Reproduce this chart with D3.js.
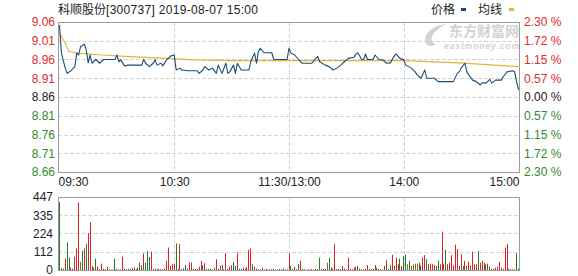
<!DOCTYPE html>
<html>
<head>
<meta charset="utf-8">
<script src="https://cdn.jsdelivr.net/npm/d3@7/dist/d3.min.js"></script>
<style>
	body { margin: 0; background: #fff; }
	svg { display: block; font-family: 'Liberation Sans', Arial, sans-serif; }
	.cjk { font-family: 'Noto Sans CJK SC', sans-serif; }
	.axis text { font-size: 12px; }
	.axis .domain, .axis line { display: none; }
	.grid line { stroke: #d4d4d4; stroke-dasharray: 4,2; }
	.frame { fill: none; stroke: #9a9a9a; }
</style>
</head>
<body>
<svg width="578" height="276"></svg>
<script>
// stock + chart meta
const title = '科顺股份'
const titleCode = '[300737] 2019-08-07 15:00'
const preClose = 8.86

// price axis ticks (left) and change ticks (right)
const priceTicks = [9.06, 9.01, 8.96, 8.91, 8.86, 8.81, 8.76, 8.71, 8.66]
const pctLabels = ['2.30 %', '1.72 %', '1.15 %', '0.57 %', '0.00 %', '0.57 %', '1.15 %', '1.72 %', '2.30 %']
const volTicks = [0, 112, 224, 335, 447]
const timeTicks = [0, 60, 120, 180, 240]
const timeLabels = ['09:30', '10:30', '11:30/13:00', '14:00', '15:00']

// price line vertices [minute, price]
const priceTrace = [
	[0, 9.052], [1, 8.977], [3, 8.937], [4, 8.923], [6, 8.930], [8, 8.941], [9, 8.977], [10, 8.972],
	[11, 8.994], [13, 9.001], [14, 8.985], [15, 8.951], [16, 8.972], [17, 8.950], [19, 8.960], [21, 8.950],
	[23, 8.960], [29, 8.960], [30, 8.972], [31, 8.954], [32, 8.959], [34, 8.943], [36, 8.945], [43, 8.945],
	[44, 8.960], [45, 8.950], [47, 8.941], [49, 8.950], [50, 8.959], [51, 8.945], [53, 8.950], [54, 8.943],
	[56, 8.959], [58, 8.969], [60, 8.972], [61, 8.932], [63, 8.937], [64, 8.932], [67, 8.930], [72, 8.930],
	[73, 8.923], [75, 8.932], [76, 8.941], [78, 8.932], [80, 8.937], [82, 8.923], [83, 8.945], [85, 8.923],
	[87, 8.950], [88, 8.923], [89, 8.927], [91, 8.945], [92, 8.923], [93, 8.950], [95, 8.932], [99, 8.932],
	[100, 8.954], [102, 8.977], [103, 8.950], [104, 8.981], [105, 8.990], [107, 8.978], [111, 8.978],
	[112, 8.960], [119, 8.960], [120, 8.990], [121, 8.977], [123, 8.972], [126, 8.954], [127, 8.950],
	[132, 8.950], [134, 8.963], [135, 8.968], [136, 8.954], [139, 8.945], [141, 8.941], [143, 8.932],
	[145, 8.937], [147, 8.945], [149, 8.954], [151, 8.963], [154, 8.966], [155, 8.975], [156, 8.978],
	[158, 8.960], [159, 8.960], [160, 8.975], [161, 8.960], [164, 8.960], [165, 8.972], [167, 8.960],
	[169, 8.959], [171, 8.950], [173, 8.951], [175, 8.969], [176, 8.975], [178, 8.963], [180, 8.959],
	[181, 8.945], [184, 8.937], [186, 8.927], [187, 8.919], [189, 8.910], [191, 8.932], [192, 8.910],
	[196, 8.910], [198, 8.901], [206, 8.901], [208, 8.923], [209, 8.927], [210, 8.937], [212, 8.950],
	[213, 8.927], [214, 8.919], [216, 8.905], [218, 8.901], [220, 8.892], [221, 8.898], [223, 8.897],
	[225, 8.907], [226, 8.897], [228, 8.905], [231, 8.905], [232, 8.914], [234, 8.927], [237, 8.930],
	[238, 8.927], [239, 8.901], [240, 8.879],
]

// average price line vertices [minute, price]
const avgTrace = [
	[0, 9.031], [3, 9.003], [5, 8.981], [10, 8.977], [22, 8.972], [39, 8.967], [57, 8.963], [70, 8.959],
	[91, 8.957], [120, 8.957], [150, 8.957], [180, 8.957], [209, 8.951], [240, 8.941],
]

// per-minute volume (lots) and side: r = up, g = down, n = flat
const volumes = [
	416, 10, 8, 70, 169, 76, 15, 8, 82, 132, 412, 50, 117, 132, 159, 225, 292, 25, 14, 70,
	20, 5, 39, 8, 5, 19, 4, 3, 3, 70, 8, 3, 4, 82, 8, 5, 8, 6, 10, 14,
	6, 14, 45, 29, 101, 45, 117, 80, 113, 5, 8, 5, 8, 6, 4, 10, 56, 138, 25, 35,
	39, 163, 8, 159, 5, 10, 31, 8, 45, 45, 8, 6, 8, 20, 56, 29, 41, 5, 6, 8,
	4, 14, 66, 8, 25, 31, 5, 103, 8, 20, 29, 49, 25, 107, 8, 6, 14, 8, 18, 124,
	132, 35, 20, 8, 5, 5, 14, 4, 5, 3, 4, 5, 8, 3, 4, 6, 3, 10, 3, 4,
	103, 25, 8, 20, 5, 35, 56, 8, 4, 3, 4, 3, 5, 3, 8, 6, 76, 8, 6, 8,
	45, 76, 15, 8, 159, 6, 8, 5, 25, 8, 4, 76, 8, 4, 15, 20, 25, 8, 5, 3,
	8, 31, 8, 5, 8, 31, 14, 8, 4, 3, 25, 60, 8, 29, 93, 25, 76, 35, 70, 25,
	87, 93, 35, 56, 25, 35, 39, 39, 45, 29, 76, 91, 66, 35, 39, 35, 29, 25, 56, 35,
	235, 39, 124, 35, 45, 91, 29, 155, 128, 25, 97, 25, 56, 25, 51, 29, 111, 35, 35, 117,
	45, 56, 45, 35, 39, 20, 8, 8, 14, 20, 49, 14, 8, 138, 159, 8, 5, 4, 3, 103, 8,
]
const volumeSides = [
	'ggrrggrrrrrngrgrrrrg', 'rrrrgrrgrgrrgrrrgrrr', 'grggrgggrrrgrrgrrrrr', 'rgrrgrgrrrrgrrrgrrrg',
	'rgrrgrrrrrrggrrgrrrr', 'rgrrgrgrrgrrgrgrrgrr', 'rgrrrgrrgrrrgrrrgrrg', 'ngrrrrgrrrrrrrrrgrrg',
	'rrrgrrgrrggrrgrrrrgr', 'ggngnnnngrrrgrrrrggr', 'rrgrrrrrrrrgrgrrrrrg', 'rrgrgrrgrrrrrrrrgrrgg',
].join('').split('')

const colors = { up: '#de2a2f', down: '#2f8a2f', flat: '#222', price: '#1a4c78', avg: '#e3b23c' }
const sideColor = { r: '#d8232a', g: '#1f7f24', n: '#8c6a1c' }

// layout
const plot = { left: 58, right: 519, top: 22, bottom: 172 }
const vol = { top: 197, bottom: 270 }

const svg = d3.select('svg')

const x = d3.scaleLinear().domain([0, 240]).range([plot.left + 1.5, plot.right - 0.5])
const y = d3.scaleLinear().domain([8.66, 9.06]).range([plot.bottom, plot.top])
const yv = d3.scaleLinear().domain([0, 447]).range([vol.bottom, vol.top])

const tickColor = v => v > preClose + 1e-6 ? colors.up : v < preClose - 1e-6 ? colors.down : colors.flat

// grids
const priceGrid = svg.append('g').attr('class', 'grid')
priceGrid.selectAll('.h').data(priceTicks.slice(1, -1)).join('line')
	.attr('x1', plot.left).attr('x2', plot.right)
	.attr('y1', d => Math.round(y(d)) + 0.5).attr('y2', d => Math.round(y(d)) + 0.5)
priceGrid.selectAll('.v').data(timeTicks.slice(1, -1)).join('line')
	.attr('class', 'v')
	.attr('x1', d => Math.round(x(d)) + 0.5).attr('x2', d => Math.round(x(d)) + 0.5)
	.attr('y1', plot.top).attr('y2', plot.bottom)

const volGrid = svg.append('g').attr('class', 'grid')
volGrid.selectAll('.h').data(volTicks.slice(1, -1)).join('line')
	.attr('x1', plot.left).attr('x2', plot.right)
	.attr('y1', d => Math.round(yv(d)) + 0.5).attr('y2', d => Math.round(yv(d)) + 0.5)
volGrid.selectAll('.v').data(timeTicks.slice(1, -1)).join('line')
	.attr('class', 'v')
	.attr('x1', d => Math.round(x(d)) + 0.5).attr('x2', d => Math.round(x(d)) + 0.5)
	.attr('y1', vol.top).attr('y2', vol.bottom)

// watermark
const wm = svg.append('g').attr('fill', '#d2d2d2')
wm.append('path')
	.attr('d', 'M446,24 C434,25 424,33 425,42 C427,47 433,47 436,44 C431,43 430,38 434,33 C437,29 442,26 446,24 Z')
wm.append('text').attr('class', 'cjk').attr('x', 449).attr('y', 36)
	.attr('font-size', 14).attr('font-weight', 'bold').attr('textLength', 70).text('东方财富网')
wm.append('text').attr('x', 444).attr('y', 48.5)
	.attr('font-size', 8.5).attr('font-weight', 'bold').attr('font-style', 'italic')
	.attr('textLength', 75).text('eastmoney.com')

// volume bars
svg.append('g').selectAll('rect').data(volumes).join('rect')
	.attr('x', (d, i) => Math.floor(x(i)))
	.attr('width', 1)
	.attr('y', d => yv(d))
	.attr('height', d => vol.bottom - yv(d))
	.attr('fill', (d, i) => sideColor[volumeSides[i]])

// price + average lines
const line = d3.line().x(d => x(d[0])).y(d => y(d[1]))

svg.append('path').datum(avgTrace)
	.attr('d', line).attr('fill', 'none')
	.attr('stroke', colors.avg).attr('stroke-width', 1.1)

svg.append('path').datum(priceTrace)
	.attr('d', line).attr('fill', 'none')
	.attr('stroke', colors.price).attr('stroke-width', 1.1).attr('stroke-linejoin', 'round')

// frames
svg.append('rect').attr('class', 'frame')
	.attr('x', plot.left + 0.5).attr('y', plot.top + 0.5)
	.attr('width', plot.right - plot.left).attr('height', plot.bottom - plot.top)
svg.append('rect').attr('class', 'frame')
	.attr('x', plot.left + 0.5).attr('y', vol.top + 0.5)
	.attr('width', plot.right - plot.left).attr('height', vol.bottom - vol.top)

// axes
svg.append('g').attr('class', 'axis')
	.attr('transform', `translate(${plot.left}, 0)`)
	.call(d3.axisLeft(y).tickValues(priceTicks).tickSize(0).tickPadding(3).tickFormat(d3.format('.2f')))
	.selectAll('text').attr('fill', d => tickColor(d))

svg.append('g').attr('class', 'axis')
	.attr('transform', `translate(${plot.right}, 0)`)
	.call(d3.axisRight(y).tickValues(priceTicks).tickSize(0).tickPadding(5).tickFormat((d, i) => pctLabels[i]))
	.selectAll('text').attr('fill', d => tickColor(d))

svg.append('g').attr('class', 'axis')
	.attr('transform', `translate(0, ${plot.bottom})`)
	.call(d3.axisBottom(x).tickValues(timeTicks).tickSize(0).tickPadding(5).tickFormat((d, i) => timeLabels[i]))
	.selectAll('text')
		.attr('fill', '#222')
		.attr('text-anchor', (d, i) => i === 0 ? 'start' : i === timeTicks.length - 1 ? 'end' : 'middle')
		.attr('dx', (d, i) => i === 0 ? -1.5 : i === timeTicks.length - 1 ? 0.5 : 0)

svg.append('g').attr('class', 'axis')
	.attr('transform', `translate(${plot.left}, 0)`)
	.call(d3.axisLeft(yv).tickValues(volTicks).tickSize(0).tickPadding(5))
	.selectAll('text').attr('fill', '#222')

// title
const t = svg.append('text').attr('x', plot.left).attr('y', 14).attr('font-size', 12).attr('fill', '#222')
t.append('tspan').attr('class', 'cjk').text(title)
t.append('tspan').attr('textLength', 152).text(titleCode)

// legend
const legend = svg.append('g').attr('font-size', 12).attr('fill', '#222')
legend.append('text').attr('class', 'cjk').attr('x', 431).attr('y', 14).text('价格')
legend.append('rect').attr('x', 461).attr('y', 8).attr('width', 5).attr('height', 3).attr('fill', colors.price)
legend.append('text').attr('class', 'cjk').attr('x', 478).attr('y', 14).text('均线')
legend.append('rect').attr('x', 509).attr('y', 8).attr('width', 5).attr('height', 3).attr('fill', colors.avg)
</script>
</body>
</html>
